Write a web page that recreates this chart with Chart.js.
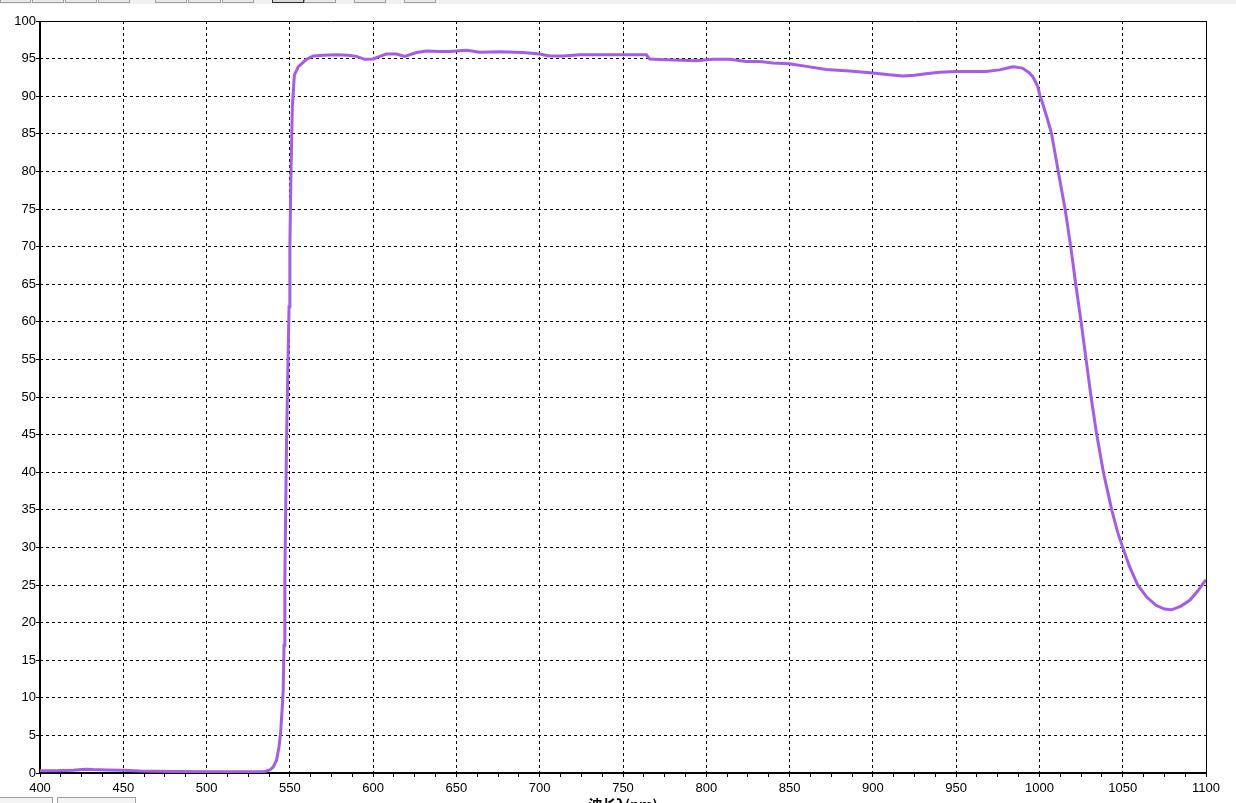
<!DOCTYPE html>
<html>
<head>
<meta charset="utf-8">
<script src="https://cdn.jsdelivr.net/npm/chart.js@4"></script>
<style>
  html, body { margin:0; padding:0; background:#fff; overflow:hidden; width:1236px; height:803px; }
  #wrap { position:relative; width:1236px; height:803px; overflow:hidden; }
  canvas { position:absolute; left:0; top:0; }
  .bar { position:absolute; left:0; top:0; width:1236px; height:4px; background:#f0f0f0; }
  .btn { position:absolute; top:0; height:3px; background:#e8e8e8; border:1px solid #a0a0a0; border-top:none; box-sizing:border-box; }
  .btn.dark { border-color:#303030; background:#d8d8d8; }
  .tab { position:absolute; top:797px; height:10px; background:#f4f4f4; border:1px solid #a0a0a0; box-sizing:border-box; }
</style>
</head>
<body>
<div id="wrap">
  <canvas id="c" width="1236" height="820"></canvas>
  <div class="bar"></div>
  <div class="btn" style="left:0px;width:31px"></div>
  <div class="btn" style="left:32px;width:32px"></div>
  <div class="btn" style="left:65px;width:32px"></div>
  <div class="btn" style="left:98px;width:32px"></div>
  <div class="btn" style="left:155px;width:32px"></div>
  <div class="btn" style="left:188px;width:33px"></div>
  <div class="btn" style="left:222px;width:32px"></div>
  <div class="btn dark" style="left:272px;width:32px"></div>
  <div class="btn" style="left:304px;width:32px"></div>
  <div class="btn" style="left:354px;width:32px"></div>
  <div class="btn" style="left:404px;width:32px"></div>
  <div class="tab" style="left:-1px;width:54px"></div>
  <div class="tab" style="left:57px;width:79px"></div>
</div>
<script>
// ---- data ----
const wavelengths = [400, 410, 420, 425, 428, 432, 440, 450, 460, 480, 500, 520, 535, 538, 540, 542, 543.5, 544.5, 545.5, 546, 546.5, 547, 547.5, 548, 548.5, 549, 549.5, 550, 550.7, 551.5, 552.7, 555, 560, 564, 570, 578, 585, 590, 595, 600, 604, 608, 614, 619, 626, 632, 640, 646, 656, 664, 676, 690, 700, 706, 714, 724, 744, 764, 766, 776, 794, 804, 814, 824, 832, 840, 850, 862, 872, 886, 900, 910, 918, 925, 932, 940, 950, 960, 968, 976, 984, 988, 990, 994, 996, 999, 1000.4, 1002, 1005, 1007.3, 1011.3, 1015.4, 1018.8, 1021.8, 1025, 1028, 1031, 1034.4, 1038.4, 1043.4, 1047, 1050, 1054, 1059, 1064.4, 1070, 1075, 1079.4, 1085, 1090.4, 1095, 1100];
const transmittance = [0.3, 0.3, 0.35, 0.45, 0.5, 0.45, 0.4, 0.35, 0.25, 0.2, 0.15, 0.15, 0.2, 0.4, 0.8, 1.7, 3.5, 5.5, 9, 11, 17, 26, 35, 44, 50, 56, 62, 70, 80, 88.6, 92.8, 93.9, 94.9, 95.35, 95.45, 95.5, 95.45, 95.3, 94.9, 94.95, 95.3, 95.6, 95.6, 95.3, 95.8, 96.0, 95.95, 95.95, 96.1, 95.85, 95.9, 95.8, 95.6, 95.35, 95.35, 95.5, 95.5, 95.5, 94.95, 94.85, 94.7, 94.9, 94.9, 94.6, 94.6, 94.4, 94.3, 93.9, 93.55, 93.35, 93.1, 92.85, 92.7, 92.8, 93.0, 93.2, 93.3, 93.3, 93.3, 93.5, 93.9, 93.8, 93.7, 93.1, 92.6, 91.3, 90, 89, 86.8, 85, 80, 75, 70, 65, 60, 55, 50, 45, 40, 35, 32, 30, 27.5, 25, 23.4, 22.3, 21.8, 21.7, 22.2, 23.0, 24.2, 25.7];
const xTickValues = [400, 412.5, 425, 437.5, 450, 462.5, 475, 487.5, 500, 512.5, 525, 537.5, 550, 562.5, 575, 587.5, 600, 612.5, 625, 637.5, 650, 662.5, 675, 687.5, 700, 712.5, 725, 737.5, 750, 762.5, 775, 787.5, 800, 812.5, 825, 837.5, 850, 862.5, 875, 887.5, 900, 912.5, 925, 937.5, 950, 962.5, 975, 987.5, 1000, 1012.5, 1025, 1037.5, 1050, 1062.5, 1075, 1087.5, 1100];
const xLabelValues = [400, 450, 500, 550, 600, 650, 700, 750, 800, 850, 900, 950, 1000, 1050, 1100];
const yTickValues = [0, 5, 10, 15, 20, 25, 30, 35, 40, 45, 50, 55, 60, 65, 70, 75, 80, 85, 90, 95, 100];
const xTitle = '波长λ(nm)';

const FONT = 'Liberation Sans, Arial, sans-serif';
const points = wavelengths.map((w, i) => ({ x: w, y: transmittance[i] }));

const framePlugin = {
  id: 'frame',
  beforeDatasetsDraw(chart) {
    const { ctx, chartArea: a } = chart;
    ctx.save();
    ctx.strokeStyle = '#000';
    ctx.lineWidth = 1;
    ctx.beginPath();
    ctx.moveTo(a.left, a.top + 0.5); ctx.lineTo(a.right, a.top + 0.5);
    ctx.moveTo(a.right + 0.5, a.top); ctx.lineTo(a.right + 0.5, a.bottom);
    ctx.stroke();
    ctx.lineWidth = 2;
    ctx.beginPath();
    ctx.moveTo(a.left, a.top); ctx.lineTo(a.left, a.bottom + 1);
    ctx.moveTo(a.left - 1, a.bottom); ctx.lineTo(a.right + 1, a.bottom);
    ctx.stroke();
    ctx.restore();
  }
};

new Chart(document.getElementById('c'), {
  type: 'line',
  data: {
    datasets: [{
      data: points,
      borderColor: '#a55ce8',
      borderWidth: 3,
      pointRadius: 0,
      tension: 0,
      fill: false
    }]
  },
  options: {
    responsive: false,
    animation: false,
    parsing: true,
    layout: { padding: { top: 21, right: 30, left: 0, bottom: 0 } },
    plugins: { legend: { display: false }, tooltip: { enabled: false } },
    scales: {
      x: {
        type: 'linear', min: 400, max: 1100,
        afterBuildTicks: (axis) => { axis.ticks = xTickValues.map(v => ({ value: v })); },
        afterFit: (s) => { s.height = 47; },
        ticks: {
          autoSkip: false, maxRotation: 0, minRotation: 0,
          color: '#000', padding: 4,
          font: { family: FONT, size: 13 },
          callback: (v) => xLabelValues.includes(v) ? String(v) : ''
        },
        grid: {
          color: (c) => (c.tick && xLabelValues.includes(c.tick.value)) ? '#000' : 'rgba(0,0,0,0)',
          lineWidth: 1, drawTicks: true, tickLength: 4, tickColor: '#000', tickWidth: 1
        },
        border: { display: false, dash: [3, 3] },
        title: {
          display: true, text: xTitle, color: '#000',
          font: { family: 'Noto Sans CJK SC, sans-serif', size: 14, weight: 'bold' },
          padding: { top: 0, bottom: 7 }
        }
      },
      y: {
        type: 'linear', min: 0, max: 100,
        afterBuildTicks: (axis) => { axis.ticks = yTickValues.map(v => ({ value: v })); },
        afterFit: (s) => { s.width = 40; },
        ticks: { autoSkip: false, color: '#000', padding: 0, font: { family: FONT, size: 13 } },
        grid: { color: '#000', lineWidth: 1, drawTicks: true, tickLength: 4, tickColor: '#000', tickWidth: 1 },
        border: { display: false, dash: [3, 3] }
      }
    }
  },
  plugins: [framePlugin]
});
</script>
</body>
</html>
